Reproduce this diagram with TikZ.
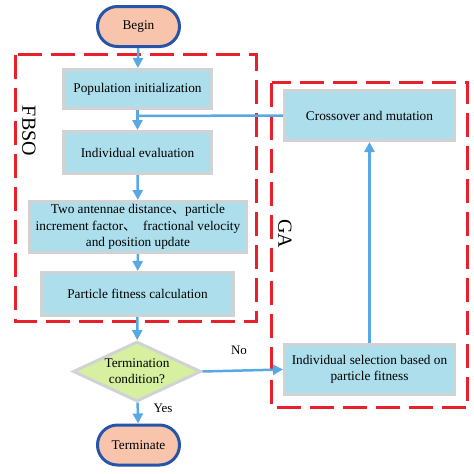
\documentclass[tikz,border=0pt]{standalone}
\usepackage{fontspec}
\setmainfont{Liberation Serif}
\newfontfamily\cjk{Noto Sans CJK SC}
\usetikzlibrary{shapes.geometric,arrows.meta}
\definecolor{boxfill}{RGB}{172,222,236}
\definecolor{boxline}{RGB}{208,210,212}
\definecolor{termfill}{RGB}{248,196,172}
\definecolor{termline}{RGB}{38,84,168}
\definecolor{decfill}{RGB}{214,240,160}
\definecolor{arrowc}{RGB}{88,168,228}
\definecolor{redc}{RGB}{232,32,44}
\newcommand{\dunhao}{{\cjk 、}}
\tikzset{
  procbox/.style={draw=boxline, line width=3pt, fill=boxfill, inner sep=0pt, align=center, font=\fontsize{13.3}{16.5}\selectfont},
  termbox/.style={draw=termline, line width=3pt, fill=termfill, rounded corners=20pt, inner sep=0pt, minimum width=82pt, minimum height=40pt, font=\fontsize{13.3}{16}\selectfont},
  decbox/.style={diamond, draw=boxline, line width=3pt, fill=decfill, aspect=2.1, inner sep=0pt, minimum width=128pt, minimum height=60pt, align=center, font=\fontsize{13.3}{16}\selectfont},
  flow/.style={draw=arrowc, line width=2.5pt, -{Triangle[length=10pt,width=10pt]}},
  flowline/.style={draw=arrowc, line width=2.5pt},
  groupbox/.style={draw=redc, line width=3pt, dash pattern=on 24pt off 9pt},
  grouplabel/.style={rotate=-90, font=\fontsize{20}{22}\selectfont},
  edgelabel/.style={font=\fontsize{13}{15}\selectfont}
}
\begin{document}
\begin{tikzpicture}[x=1pt,y=-1pt]
\useasboundingbox (0,0) rectangle (474,474);
% group frames
\draw[groupbox] (15.5,54.5) rectangle (256.5,321.5);
\draw[groupbox] (271.5,82.5) rectangle (467.5,407.5);
\node[grouplabel] (fbso) at (29,131) {FBSO};
\node[grouplabel] (ga) at (285,234) {GA};
% nodes
\node[termbox] (begin) at (138.5,26.5) {Begin};
\node[procbox, minimum width=148pt, minimum height=39pt] (pop) at (137.5,89) {Population initialization};
\node[procbox, minimum width=148pt, minimum height=42pt] (eval) at (137.5,152.5) {Individual evaluation};
\node[procbox, minimum width=217pt, minimum height=51pt] (upd) at (138,227) {Two antennae distance\dunhao particle\\increment factor\dunhao\ \ fractional velocity\\and position update};
\node[procbox, minimum width=192pt, minimum height=43pt] (fit) at (137.5,294) {Particle fitness calculation};
\node[decbox] (dec) at (137,371.5) {Termination\\condition?};
\node[termbox] (term) at (138.5,445) {Terminate};
\node[procbox, minimum width=170pt, minimum height=50pt] (cross) at (369.5,115.5) {Crossover and mutation};
\node[procbox, minimum width=170pt, minimum height=50pt] (sel) at (369.5,369.5) {Individual selection based on\\particle fitness};
% connectors
\draw[flow] (begin) -- (pop);
\draw[flow] (pop) -- (eval);
\draw[flow] (eval) -- (upd);
\draw[flow] (upd) -- (fit);
\draw[flow] (fit) -- (dec);
\draw[flow] (dec) -- (term);
\draw[flow] (dec.east) -- (sel.west);
\draw[flow] (sel) -- (cross);
\coordinate (join) at (138,116);
\draw[flowline] (cross.west) -- (join);
% labels
\node[edgelabel] (no) at (239,350) {No};
\node[edgelabel] (yes) at (163,408) {Yes};
\end{tikzpicture}
\end{document}
